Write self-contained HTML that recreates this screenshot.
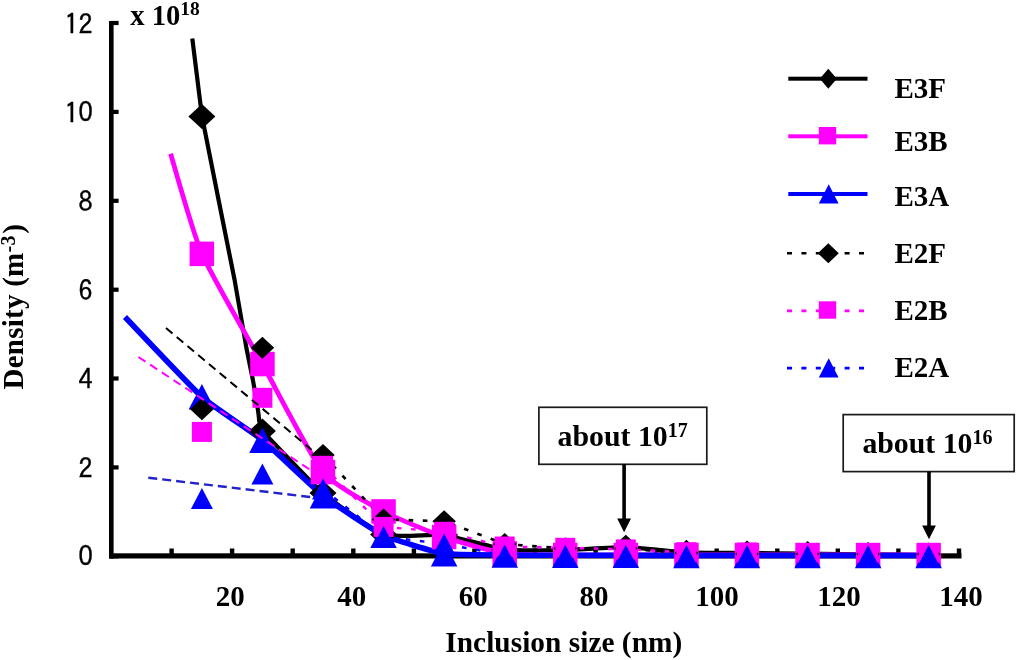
<!DOCTYPE html>
<html lang="en">
<head>
<meta charset="utf-8">
<title>Inclusion density vs. size</title>
<style>
html,body{margin:0;padding:0;background:#fff;}
body{width:1017px;height:660px;overflow:hidden;}
svg{display:block;filter:blur(0.55px);}
</style>
</head>
<body>
<svg width="1017" height="660" viewBox="0 0 1017 660">
<rect width="1017" height="660" fill="#fff"/>
<g fill="#000">
<rect x="109" y="21" width="4.6" height="537.5"/>
<rect x="109" y="553.3" width="852.5" height="5.2"/>
<rect x="111" y="554.2" width="7.6" height="4.2"/>
<rect x="111" y="465.3" width="7.6" height="4.2"/>
<rect x="111" y="376.4" width="7.6" height="4.2"/>
<rect x="111" y="287.6" width="7.6" height="4.2"/>
<rect x="111" y="198.7" width="7.6" height="4.2"/>
<rect x="111" y="109.8" width="7.6" height="4.2"/>
<rect x="111" y="20.9" width="7.6" height="4.2"/>
<rect x="169.4" y="548.5" width="4.4" height="6"/>
<rect x="229.9" y="548.5" width="4.4" height="6"/>
<rect x="290.5" y="548.5" width="4.4" height="6"/>
<rect x="351.1" y="548.5" width="4.4" height="6"/>
<rect x="411.7" y="548.5" width="4.4" height="6"/>
<rect x="472.2" y="548.5" width="4.4" height="6"/>
<rect x="532.8" y="548.5" width="4.4" height="6"/>
<rect x="593.4" y="548.5" width="4.4" height="6"/>
<rect x="653.9" y="548.5" width="4.4" height="6"/>
<rect x="714.5" y="548.5" width="4.4" height="6"/>
<rect x="775.1" y="548.5" width="4.4" height="6"/>
<rect x="835.6" y="548.5" width="4.4" height="6"/>
<rect x="896.2" y="548.5" width="4.4" height="6"/>
<rect x="956.8" y="548.5" width="4.4" height="6"/>
</g>
<path d="M192.3,38.5 L202,116.4 L218.6,200 L234.6,280 L246.4,348 L252.7,379 C255,392 258.5,410 259.2,421 L263,431 L262.4,431.0 C267.5,436.2 312.9,484.4 323.0,493.0 C333.1,501.6 373.5,531.0 383.6,534.5 C393.7,538.0 434.0,533.8 444.1,535.0 C454.2,536.2 494.6,548.2 504.7,549.5 C514.8,550.8 555.2,550.2 565.3,550.0 C575.4,549.8 615.8,547.0 625.8,547.2 C635.9,547.4 676.3,551.8 686.4,552.3 C696.5,552.8 736.9,552.8 747.0,552.9 C757.1,553.0 797.5,553.5 807.6,553.6 C817.7,553.7 858.0,554.3 868.1,554.4 C878.2,554.5 923.6,555.0 928.7,555.0" fill="none" stroke="#000" stroke-width="4.2" stroke-linejoin="round"/>
<path d="M170.6,153.8 C173.7,163.8 192.7,232.8 201.9,253.8 C211.0,274.8 250.3,342.2 262.4,364.0 C274.5,385.8 310.9,457.2 323.0,472.0 C335.1,486.8 371.5,505.0 383.6,511.5 C395.7,518.0 432.0,532.8 444.1,537.0 C456.2,541.2 492.6,551.7 504.7,553.5 C516.8,555.3 553.2,554.9 565.3,555.0 C577.4,555.1 613.7,555.0 625.8,555.0 C638.0,555.0 674.3,555.0 686.4,555.0 C698.5,555.0 734.9,555.0 747.0,555.0 C759.1,555.0 795.4,555.0 807.6,555.0 C819.7,555.0 856.0,555.0 868.1,555.0 C880.2,555.0 922.6,555.0 928.7,555.0" fill="none" stroke="#ff00ff" stroke-width="4.8" stroke-linejoin="round"/>
<path d="M125.0,317.0 C130.6,322.9 191.8,387.8 201.9,396.8 C211.9,405.8 253.5,432.9 262.4,440.2 C271.3,447.5 314.1,488.7 323.0,495.7 C331.9,502.7 374.7,531.1 383.6,535.3 C392.4,539.5 435.3,552.2 444.1,553.6 C453.0,555.0 495.8,554.9 504.7,555.0 C513.6,555.1 556.4,555.3 565.3,555.3 C574.2,555.3 617.0,555.3 625.8,555.3 C634.7,555.3 677.5,555.5 686.4,555.5 C695.3,555.5 738.1,555.5 747.0,555.5 C755.9,555.5 798.7,555.5 807.6,555.5 C816.4,555.5 859.2,555.5 868.1,555.5 C877.0,555.5 924.3,555.5 928.7,555.5" fill="none" stroke="#0000ff" stroke-width="5.6" stroke-linejoin="round"/>
<path d="M323.0,454.9 L383.6,519.5 L444.1,521.2 L504.7,544.0 L565.3,548.5 L625.8,548.6 L686.4,553.0" fill="none" stroke="#000" stroke-width="2.7" stroke-dasharray="4.6 9.6"/>
<path d="M323.0,465.8 L383.6,526.9 L444.1,531.8 L504.7,546.5 L565.3,547.8 L625.8,549.4 L686.4,552.2" fill="none" stroke="#ff00ff" stroke-width="2.4" stroke-dasharray="4.6 9.6"/>
<path d="M323.0,489.0 L383.6,536.6 L444.1,544.0 L504.7,555.0" fill="none" stroke="#0000ff" stroke-width="2.4" stroke-dasharray="4.6 9.6"/>
<polygon points="188.4,116.4 201.9,103.9 215.4,116.4 201.9,128.9" fill="#000"/>
<polygon points="248.9,431.0 262.4,418.5 275.9,431.0 262.4,443.5" fill="#000"/>
<polygon points="309.5,493.0 323.0,480.5 336.5,493.0 323.0,505.5" fill="#000"/>
<polygon points="370.1,534.5 383.6,522.0 397.1,534.5 383.6,547.0" fill="#000"/>
<polygon points="430.6,535.0 444.1,522.5 457.6,535.0 444.1,547.5" fill="#000"/>
<polygon points="491.2,549.5 504.7,537.0 518.2,549.5 504.7,562.0" fill="#000"/>
<polygon points="551.8,550.0 565.3,537.5 578.8,550.0 565.3,562.5" fill="#000"/>
<polygon points="612.3,547.2 625.8,534.7 639.3,547.2 625.8,559.7" fill="#000"/>
<polygon points="672.9,552.3 686.4,539.8 699.9,552.3 686.4,564.8" fill="#000"/>
<polygon points="733.5,552.9 747.0,540.4 760.5,552.9 747.0,565.4" fill="#000"/>
<polygon points="794.1,553.6 807.6,541.1 821.1,553.6 807.6,566.1" fill="#000"/>
<polygon points="854.6,554.4 868.1,541.9 881.6,554.4 868.1,566.9" fill="#000"/>
<polygon points="915.2,555.0 928.7,542.5 942.2,555.0 928.7,567.5" fill="#000"/>
<rect x="189.6" y="241.6" width="24.5" height="24.5" fill="#ff00ff"/>
<rect x="250.2" y="351.8" width="24.5" height="24.5" fill="#ff00ff"/>
<rect x="310.7" y="459.8" width="24.5" height="24.5" fill="#ff00ff"/>
<rect x="371.3" y="499.2" width="24.5" height="24.5" fill="#ff00ff"/>
<rect x="431.9" y="524.8" width="24.5" height="24.5" fill="#ff00ff"/>
<rect x="492.5" y="541.2" width="24.5" height="24.5" fill="#ff00ff"/>
<rect x="553.0" y="542.8" width="24.5" height="24.5" fill="#ff00ff"/>
<rect x="613.6" y="542.8" width="24.5" height="24.5" fill="#ff00ff"/>
<rect x="674.2" y="542.8" width="24.5" height="24.5" fill="#ff00ff"/>
<rect x="734.7" y="542.8" width="24.5" height="24.5" fill="#ff00ff"/>
<rect x="795.3" y="542.8" width="24.5" height="24.5" fill="#ff00ff"/>
<rect x="855.9" y="542.8" width="24.5" height="24.5" fill="#ff00ff"/>
<rect x="916.4" y="542.8" width="24.5" height="24.5" fill="#ff00ff"/>
<polygon points="201.9,384.1 215.1,409.6 188.6,409.6" fill="#0000ff"/>
<polygon points="262.4,427.4 275.7,452.9 249.2,452.9" fill="#0000ff"/>
<polygon points="323.0,482.9 336.2,508.4 309.7,508.4" fill="#0000ff"/>
<polygon points="383.6,522.5 396.8,548.0 370.3,548.0" fill="#0000ff"/>
<polygon points="444.1,540.9 457.4,566.4 430.9,566.4" fill="#0000ff"/>
<polygon points="504.7,542.2 518.0,567.8 491.5,567.8" fill="#0000ff"/>
<polygon points="565.3,542.5 578.5,568.0 552.0,568.0" fill="#0000ff"/>
<polygon points="625.8,542.5 639.1,568.0 612.6,568.0" fill="#0000ff"/>
<polygon points="686.4,542.8 699.7,568.2 673.2,568.2" fill="#0000ff"/>
<polygon points="747.0,542.8 760.2,568.2 733.7,568.2" fill="#0000ff"/>
<polygon points="807.6,542.8 820.8,568.2 794.3,568.2" fill="#0000ff"/>
<polygon points="868.1,542.8 881.4,568.2 854.9,568.2" fill="#0000ff"/>
<polygon points="928.7,542.8 941.9,568.2 915.4,568.2" fill="#0000ff"/>
<polygon points="190.1,409.3 201.9,398.3 213.6,409.3 201.9,420.3" fill="#000"/>
<polygon points="250.7,347.7 262.4,336.7 274.2,347.7 262.4,358.7" fill="#000"/>
<polygon points="311.2,454.9 323.0,443.9 334.7,454.9 323.0,465.9" fill="#000"/>
<polygon points="371.8,519.5 383.6,508.5 395.3,519.5 383.6,530.5" fill="#000"/>
<polygon points="432.4,521.2 444.1,510.2 455.9,521.2 444.1,532.2" fill="#000"/>
<polygon points="493.0,544.0 504.7,533.0 516.5,544.0 504.7,555.0" fill="#000"/>
<polygon points="553.5,548.5 565.3,537.5 577.0,548.5 565.3,559.5" fill="#000"/>
<polygon points="614.1,548.6 625.8,537.6 637.6,548.6 625.8,559.6" fill="#000"/>
<polygon points="674.7,553.0 686.4,542.0 698.2,553.0 686.4,564.0" fill="#000"/>
<polygon points="735.2,554.0 747.0,543.0 758.7,554.0 747.0,565.0" fill="#000"/>
<polygon points="795.8,554.0 807.6,543.0 819.3,554.0 807.6,565.0" fill="#000"/>
<polygon points="856.4,554.0 868.1,543.0 879.9,554.0 868.1,565.0" fill="#000"/>
<polygon points="916.9,554.0 928.7,543.0 940.4,554.0 928.7,565.0" fill="#000"/>
<rect x="191.9" y="421.9" width="20.0" height="20.0" fill="#ff00ff"/>
<rect x="252.4" y="387.8" width="20.0" height="20.0" fill="#ff00ff"/>
<rect x="313.0" y="455.8" width="20.0" height="20.0" fill="#ff00ff"/>
<rect x="373.6" y="516.9" width="20.0" height="20.0" fill="#ff00ff"/>
<rect x="434.1" y="521.8" width="20.0" height="20.0" fill="#ff00ff"/>
<rect x="494.7" y="536.5" width="20.0" height="20.0" fill="#ff00ff"/>
<rect x="555.3" y="537.8" width="20.0" height="20.0" fill="#ff00ff"/>
<rect x="615.8" y="539.4" width="20.0" height="20.0" fill="#ff00ff"/>
<rect x="676.4" y="542.2" width="20.0" height="20.0" fill="#ff00ff"/>
<rect x="737.0" y="542.5" width="20.0" height="20.0" fill="#ff00ff"/>
<rect x="797.6" y="543.0" width="20.0" height="20.0" fill="#ff00ff"/>
<rect x="858.1" y="543.0" width="20.0" height="20.0" fill="#ff00ff"/>
<rect x="918.7" y="543.0" width="20.0" height="20.0" fill="#ff00ff"/>
<polygon points="201.9,488.0 212.9,509.0 190.9,509.0" fill="#0000ff"/>
<polygon points="262.4,463.5 273.4,484.5 251.4,484.5" fill="#0000ff"/>
<polygon points="323.0,478.5 334.0,499.5 312.0,499.5" fill="#0000ff"/>
<polygon points="383.6,526.1 394.6,547.1 372.6,547.1" fill="#0000ff"/>
<polygon points="444.1,533.5 455.1,554.5 433.1,554.5" fill="#0000ff"/>
<polygon points="504.7,544.5 515.7,565.5 493.7,565.5" fill="#0000ff"/>
<polygon points="565.3,544.8 576.3,565.8 554.3,565.8" fill="#0000ff"/>
<polygon points="625.8,544.8 636.8,565.8 614.8,565.8" fill="#0000ff"/>
<polygon points="686.4,545.0 697.4,566.0 675.4,566.0" fill="#0000ff"/>
<polygon points="747.0,545.0 758.0,566.0 736.0,566.0" fill="#0000ff"/>
<polygon points="807.6,545.0 818.6,566.0 796.6,566.0" fill="#0000ff"/>
<polygon points="868.1,545.0 879.1,566.0 857.1,566.0" fill="#0000ff"/>
<polygon points="928.7,545.0 939.7,566.0 917.7,566.0" fill="#0000ff"/>
<path d="M166,328 L311.5,449.8" fill="none" stroke="#000" stroke-width="2" stroke-dasharray="8.5 5.5"/>
<path d="M138.4,357 L310,469.7" fill="none" stroke="#ff00ff" stroke-width="2" stroke-dasharray="8.5 5.5"/>
<path d="M148.3,477.7 L311,497.1" fill="none" stroke="#2222cc" stroke-width="2.4" stroke-dasharray="9 5"/>
<rect x="538.9" y="407.3" width="167.9" height="57.0" fill="#fff" stroke="#1a1a1a" stroke-width="1.7"/>
<rect x="843.2" y="414.6" width="171.0" height="57.0" fill="#fff" stroke="#1a1a1a" stroke-width="1.7"/>
<rect x="622.3" y="464.3" width="3.6" height="56.0" fill="#000"/><polygon points="617.2,518.5 631.0,518.5 624.1,532.3" fill="#000"/>
<rect x="927.2" y="471.6" width="3.6" height="55.7" fill="#000"/><polygon points="922.1,525.5 935.9,525.5 929.0,539.3" fill="#000"/>
<text x="130.3" y="25.2" font-family="'Liberation Serif', serif" font-weight="bold" font-size="28.6" letter-spacing="0" fill="#000">x 10<tspan font-size="19.5" dy="-10">18</tspan></text>
<text x="557.6" y="445.8" font-family="'Liberation Serif', serif" font-weight="bold" font-size="29.8" letter-spacing="0" fill="#000">about 10<tspan font-size="20" dy="-9.3">17</tspan></text>
<text x="862.4" y="453.4" font-family="'Liberation Serif', serif" font-weight="bold" font-size="29.8" letter-spacing="0" fill="#000">about 10<tspan font-size="20" dy="-9.3">16</tspan></text>
<text x="92.8" y="566.1" font-size="28" text-anchor="end" fill="#000" stroke="#000" stroke-width="0.35"><tspan font-family="'Liberation Sans', sans-serif" font-size="29" dy="-1.3" textLength="14.2" lengthAdjust="spacingAndGlyphs">0</tspan></text>
<text x="92.5" y="478.0" font-size="28" text-anchor="end" fill="#000" stroke="#000" stroke-width="0.35"><tspan font-family="IPAGothic, 'Liberation Sans', sans-serif">2</tspan></text>
<text x="92.5" y="389.1" font-size="28" text-anchor="end" fill="#000" stroke="#000" stroke-width="0.35"><tspan font-family="IPAGothic, 'Liberation Sans', sans-serif">4</tspan></text>
<text x="92.5" y="300.3" font-size="28" text-anchor="end" fill="#000" stroke="#000" stroke-width="0.35"><tspan font-family="IPAGothic, 'Liberation Sans', sans-serif">6</tspan></text>
<text x="92.5" y="211.4" font-size="28" text-anchor="end" fill="#000" stroke="#000" stroke-width="0.35"><tspan font-family="IPAGothic, 'Liberation Sans', sans-serif">8</tspan></text>
<text x="92.8" y="122.5" font-size="28" text-anchor="end" fill="#000" stroke="#000" stroke-width="0.35"><tspan font-family="IPAGothic, 'Liberation Sans', sans-serif">1</tspan><tspan font-family="'Liberation Sans', sans-serif" font-size="29" dy="-1.3" textLength="14.2" lengthAdjust="spacingAndGlyphs">0</tspan></text>
<text x="92.5" y="33.6" font-size="28" text-anchor="end" fill="#000" stroke="#000" stroke-width="0.35"><tspan font-family="IPAGothic, 'Liberation Sans', sans-serif">12</tspan></text>
<text x="230.2" y="606.3" font-family="'Liberation Serif', serif" font-weight="bold" font-size="29" text-anchor="middle" fill="#000">20</text>
<text x="351.7" y="606.3" font-family="'Liberation Serif', serif" font-weight="bold" font-size="29" text-anchor="middle" fill="#000">40</text>
<text x="473.3" y="606.3" font-family="'Liberation Serif', serif" font-weight="bold" font-size="29" text-anchor="middle" fill="#000">60</text>
<text x="594.0" y="606.3" font-family="'Liberation Serif', serif" font-weight="bold" font-size="29" text-anchor="middle" fill="#000">80</text>
<text x="716.9" y="606.3" font-family="'Liberation Serif', serif" font-weight="bold" font-size="29" text-anchor="middle" fill="#000">100</text>
<text x="839.1" y="606.3" font-family="'Liberation Serif', serif" font-weight="bold" font-size="29" text-anchor="middle" fill="#000">120</text>
<text x="961.1" y="606.3" font-family="'Liberation Serif', serif" font-weight="bold" font-size="29" text-anchor="middle" fill="#000">140</text>
<text x="445.3" y="651.8" font-family="'Liberation Serif', serif" font-weight="bold" font-size="29.3" letter-spacing="0.05" fill="#000">Inclusion size (nm)</text>
<text transform="translate(23.2,389.5) rotate(-90)" font-family="'Liberation Serif', serif" font-weight="bold" font-size="29" letter-spacing="0.25" fill="#000">Density (m<tspan font-size="20" dy="-8.5">-3</tspan><tspan dy="8.5" dx="1.5">)</tspan></text>
<rect x="788.3" y="76.7" width="79.2" height="4" fill="#000"/>
<polygon points="819.8,78.7 828.3,68.7 836.8,78.7 828.3,88.7" fill="#000"/>
<text x="894.5" y="98.3" font-family="'Liberation Serif', serif" font-weight="bold" font-size="29" fill="#000">E3F</text>
<rect x="788.3" y="134.3" width="79.2" height="4" fill="#ff00ff"/>
<rect x="818.8" y="127.0" width="17.4" height="17.4" fill="#ff00ff"/>
<text x="894.5" y="150.5" font-family="'Liberation Serif', serif" font-weight="bold" font-size="29" fill="#000">E3B</text>
<rect x="788.3" y="192.0" width="79.2" height="4" fill="#0000ff"/>
<polygon points="828.7,184.2 838.6,203.4 818.8,203.4" fill="#0000ff"/>
<text x="894.5" y="206.4" font-family="'Liberation Serif', serif" font-weight="bold" font-size="29" fill="#000">E3A</text>
<path d="M787,253.2 H866" stroke="#000" stroke-width="2.6" stroke-dasharray="5 9.4" fill="none"/>
<polygon points="817.8,253.2 828.3,243.2 838.8,253.2 828.3,263.2" fill="#000"/>
<text x="894.5" y="263.4" font-family="'Liberation Serif', serif" font-weight="bold" font-size="29" fill="#000">E2F</text>
<path d="M787,310.9 H866" stroke="#ff00ff" stroke-width="2.6" stroke-dasharray="5 9.4" fill="none"/>
<rect x="818.8" y="301.3" width="17.4" height="17.4" fill="#ff00ff"/>
<text x="894.5" y="320.3" font-family="'Liberation Serif', serif" font-weight="bold" font-size="29" fill="#000">E2B</text>
<path d="M787,368.1 H866" stroke="#0000ff" stroke-width="2.6" stroke-dasharray="5 9.4" fill="none"/>
<polygon points="828.7,358.3 838.6,377.5 818.8,377.5" fill="#0000ff"/>
<text x="894.5" y="377.3" font-family="'Liberation Serif', serif" font-weight="bold" font-size="29" fill="#000">E2A</text>
</svg>
</body>
</html>
